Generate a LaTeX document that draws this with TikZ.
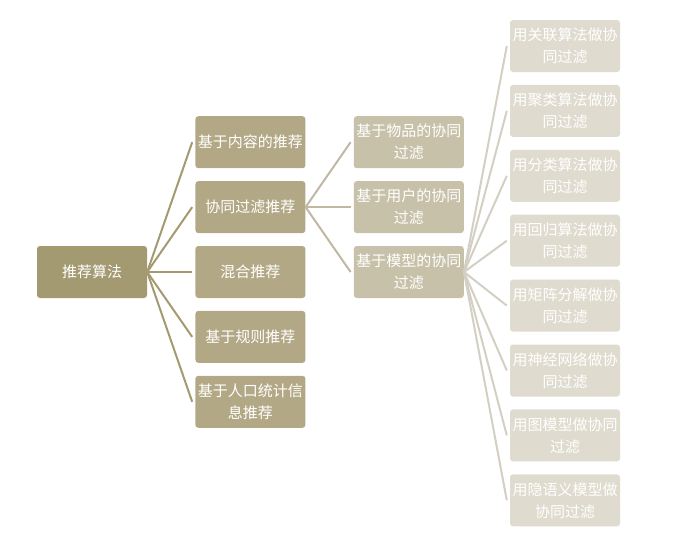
\documentclass[tikz,border=0pt]{standalone}
\usepackage{fontspec}
\setmainfont{Noto Sans CJK SC}
\usetikzlibrary{positioning}
\definecolor{rootfill}{HTML}{A39A72}
\definecolor{onefill}{HTML}{B3A886}
\definecolor{twofill}{HTML}{C8C1A9}
\definecolor{threefill}{HTML}{DFDBCE}
\definecolor{oneline}{HTML}{A39A72}
\definecolor{twoline}{HTML}{BFB8A2}
\definecolor{threeline}{HTML}{D3CFC3}
\tikzset{
  box/.style={rounded corners=3pt, minimum width=110pt, minimum height=52pt,
    text width=108pt, inner sep=1pt, align=center, text=white,
    font=\fontsize{15pt}{22pt}\selectfont},
  rootbox/.style={box, fill=rootfill},
  onebox/.style={box, fill=onefill},
  twobox/.style={box, fill=twofill},
  threebox/.style={box, fill=threefill},
}
\begin{document}
\begin{tikzpicture}[x=1pt, y=-1pt, node distance=12.5pt]
    \useasboundingbox (0,0) rectangle (679,550);

    \node [rootbox] (root) at (92,272) {推荐算法};

    \node [onebox, right=48pt of root] (c3) {混合推荐};
    \node [onebox, above=of c3] (c2) {协同过滤推荐};
    \node [onebox, above=of c2] (c1) {基于内容的推荐};
    \node [onebox, below=of c3] (c4) {基于规则推荐};
    \node [onebox, below=of c4] (c5) {基于人口统计信\\息推荐};

    \node [twobox, right=48pt of c2] (m2) {基于用户的协同\\过滤};
    \node [twobox, above=of m2] (m1) {基于物品的协同\\过滤};
    \node [twobox, below=of m2] (m3) {基于模型的协同\\过滤};

    \node [threebox] (f1) at (565,46) {用关联算法做协\\同过滤};
    \node [threebox, below=of f1] (f2) {用聚类算法做协\\同过滤};
    \node [threebox, below=of f2] (f3) {用分类算法做协\\同过滤};
    \node [threebox, below=of f3] (f4) {用回归算法做协\\同过滤};
    \node [threebox, below=of f4] (f5) {用矩阵分解做协\\同过滤};
    \node [threebox, below=of f5] (f6) {用神经网络做协\\同过滤};
    \node [threebox, below=of f6] (f7) {用图模型做协同\\过滤};
    \node [threebox, below=of f7] (f8) {用隐语义模型做\\协同过滤};

    % connectors stop a little short of the boxes
    \foreach \c in {c1,c2,c3,c4,c5}
      \draw [oneline, line width=2pt] (root.east) -- ([xshift=-3pt]\c.west);
    \foreach \m in {m1,m2,m3}
      \draw [twoline, line width=2pt] (c2.east) -- ([xshift=-3pt]\m.west);
    \foreach \f in {f1,f2,f3,f4,f5,f6,f7,f8}
      \draw [threeline, line width=2pt] (m3.east) -- ([xshift=-3pt]\f.west);
\end{tikzpicture}
\end{document}
